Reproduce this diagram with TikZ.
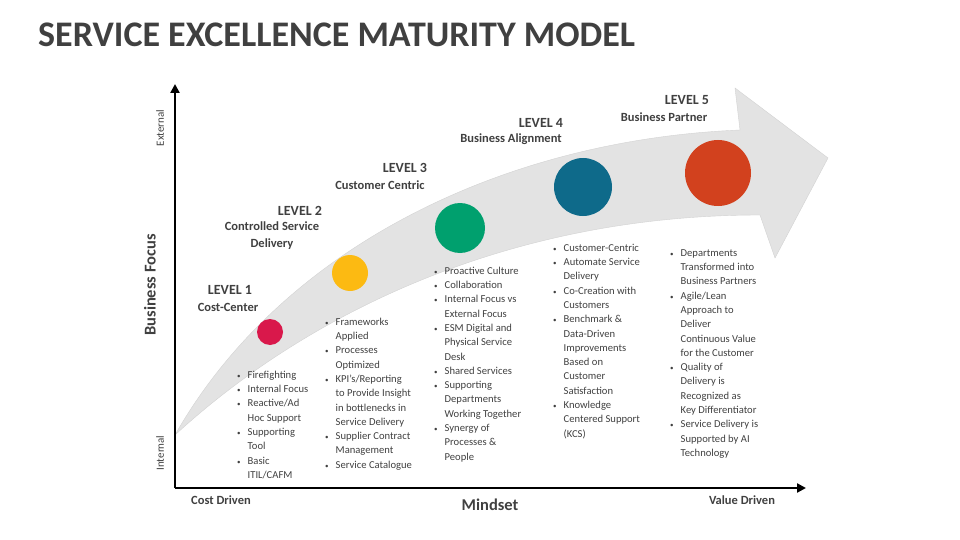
\documentclass[tikz,border=0pt]{standalone}
\usepackage{fontspec}
\setmainfont{Carlito}
\usetikzlibrary{arrows.meta}
\definecolor{txt}{HTML}{404040}
\newcommand{\bl}[1]{\scriptsize\textbullet & #1\\}
\newcommand{\cl}[1]{ & #1\\}
\tikzset{
  lvl/.style={font=\bfseries\fontsize{14}{15}\selectfont, text=txt, inner sep=0},
  sub/.style={font=\bfseries\fontsize{12.5}{17}\selectfont, text=txt, inner sep=0, align=center},
  lst/.style={anchor=north west, inner sep=0, text=txt, font=\fontsize{10.6}{14.3}\selectfont},
  dot/.style={circle, draw=none, inner sep=0},
  axis/.style={line width=2.5pt, -{Triangle[length=9pt,width=9pt]}}
}
\begin{document}
\begin{tikzpicture}[x=1pt,y=-1pt]
\useasboundingbox (0,0) rectangle (960,540);
\node[anchor=west, font=\bfseries\fontsize{36}{36}\selectfont, text=txt, inner sep=0] (title) at (38,35) {SERVICE EXCELLENCE MATURITY MODEL};
% band arrow
\fill[gray!22, draw=gray!35] (175,435) .. controls (280,250) and (500,140) .. (740,130) -- (735,88) -- (828,158) -- (775,258) -- (760,215) .. controls (500,215) and (300,320) .. (175,435) -- cycle;
% axes
\coordinate (o) at (175,488);
\coordinate (ytop) at (175,84);
\coordinate (xend) at (806,488);
\draw[axis] (o) -- (ytop);
\draw[axis] (o) -- (xend);
% circles
\node[dot, fill={rgb,255:red,217;green,24;blue,75}, minimum size=26] (c1) at (270,332) {};
\node[dot, fill={rgb,255:red,252;green,186;blue,18}, minimum size=36] (c2) at (350,273) {};
\node[dot, fill={rgb,255:red,0;green,160;blue,110}, minimum size=50] (c3) at (460,228) {};
\node[dot, fill={rgb,255:red,14;green,106;blue,138}, minimum size=58] (c4) at (583,187) {};
\node[dot, fill={rgb,255:red,210;green,65;blue,30}, minimum size=66] (c5) at (718,173) {};
% level labels
\node[lvl] (l1) at (230,290) {LEVEL 1};
\node[sub] (s1) at (228,307) {Cost-Center};
\node[lvl] (l2) at (300,211) {LEVEL 2};
\node[sub] (s2) at (272,236) {Controlled Service\\Delivery};
\node[lvl] (l3) at (405,168) {LEVEL 3};
\node[sub] (s3) at (380,185) {Customer Centric};
\node[lvl] (l4) at (541,123) {LEVEL 4};
\node[sub] (s4) at (511,139) {Business Alignment};
\node[lvl] (l5) at (687,100) {LEVEL 5};
\node[sub] (s5) at (664,117) {Business Partner};
% lists
\node[lst] (b1) at (237,368) {\begin{tabular}{@{}l@{\hspace{7pt}}l@{}}
\bl{Firefighting}\bl{Internal Focus}\bl{Reactive/Ad}\cl{Hoc Support}\bl{Supporting}\cl{Tool}\bl{Basic}\cl{ITIL/CAFM}\end{tabular}};
\node[lst] (b2) at (325,315) {\begin{tabular}{@{}l@{\hspace{7pt}}l@{}}
\bl{Frameworks}\cl{Applied}\bl{Processes}\cl{Optimized}\bl{KPI's/Reporting}\cl{to Provide Insight}\cl{in bottlenecks in}\cl{Service Delivery}\bl{Supplier Contract}\cl{Management}\bl{Service Catalogue}\end{tabular}};
\node[lst] (b3) at (434,264) {\begin{tabular}{@{}l@{\hspace{7pt}}l@{}}
\bl{Proactive Culture}\bl{Collaboration}\bl{Internal Focus vs}\cl{External Focus}\bl{ESM Digital and}\cl{Physical Service}\cl{Desk}\bl{Shared Services}\bl{Supporting}\cl{Departments}\cl{Working Together}\bl{Synergy of}\cl{Processes \&}\cl{People}\end{tabular}};
\node[lst] (b4) at (553,241) {\begin{tabular}{@{}l@{\hspace{7pt}}l@{}}
\bl{Customer-Centric}\bl{Automate Service}\cl{Delivery}\bl{Co-Creation with}\cl{Customers}\bl{Benchmark \&}\cl{Data-Driven}\cl{Improvements}\cl{Based on}\cl{Customer}\cl{Satisfaction}\bl{Knowledge}\cl{Centered Support}\cl{(KCS)}\end{tabular}};
\node[lst] (b5) at (670,246) {\begin{tabular}{@{}l@{\hspace{7pt}}l@{}}
\bl{Departments}\cl{Transformed into}\cl{Business Partners}\bl{Agile/Lean}\cl{Approach to}\cl{Deliver}\cl{Continuous Value}\cl{for the Customer}\bl{Quality of}\cl{Delivery is}\cl{Recognized as}\cl{Key Differentiator}\bl{Service Delivery is}\cl{Supported by AI}\cl{Technology}\end{tabular}};
% axis labels
\node[rotate=90, font=\bfseries\fontsize{16.5}{16}\selectfont, text=txt] (bf) at (150,285) {Business Focus};
\node[rotate=90, font=\fontsize{11}{11}\selectfont, text=txt] (ext) at (160,128) {External};
\node[rotate=90, font=\fontsize{11}{11}\selectfont, text=txt] (int) at (160,453) {Internal};
\node[font=\bfseries\fontsize{12.5}{12}\selectfont, text=txt] (cd) at (221,500) {Cost Driven};
\node[font=\bfseries\fontsize{16.5}{16}\selectfont, text=txt] (ms) at (490,505) {Mindset};
\node[font=\bfseries\fontsize{12.5}{12}\selectfont, text=txt] (vd) at (742,500) {Value Driven};
\end{tikzpicture}
\end{document}
